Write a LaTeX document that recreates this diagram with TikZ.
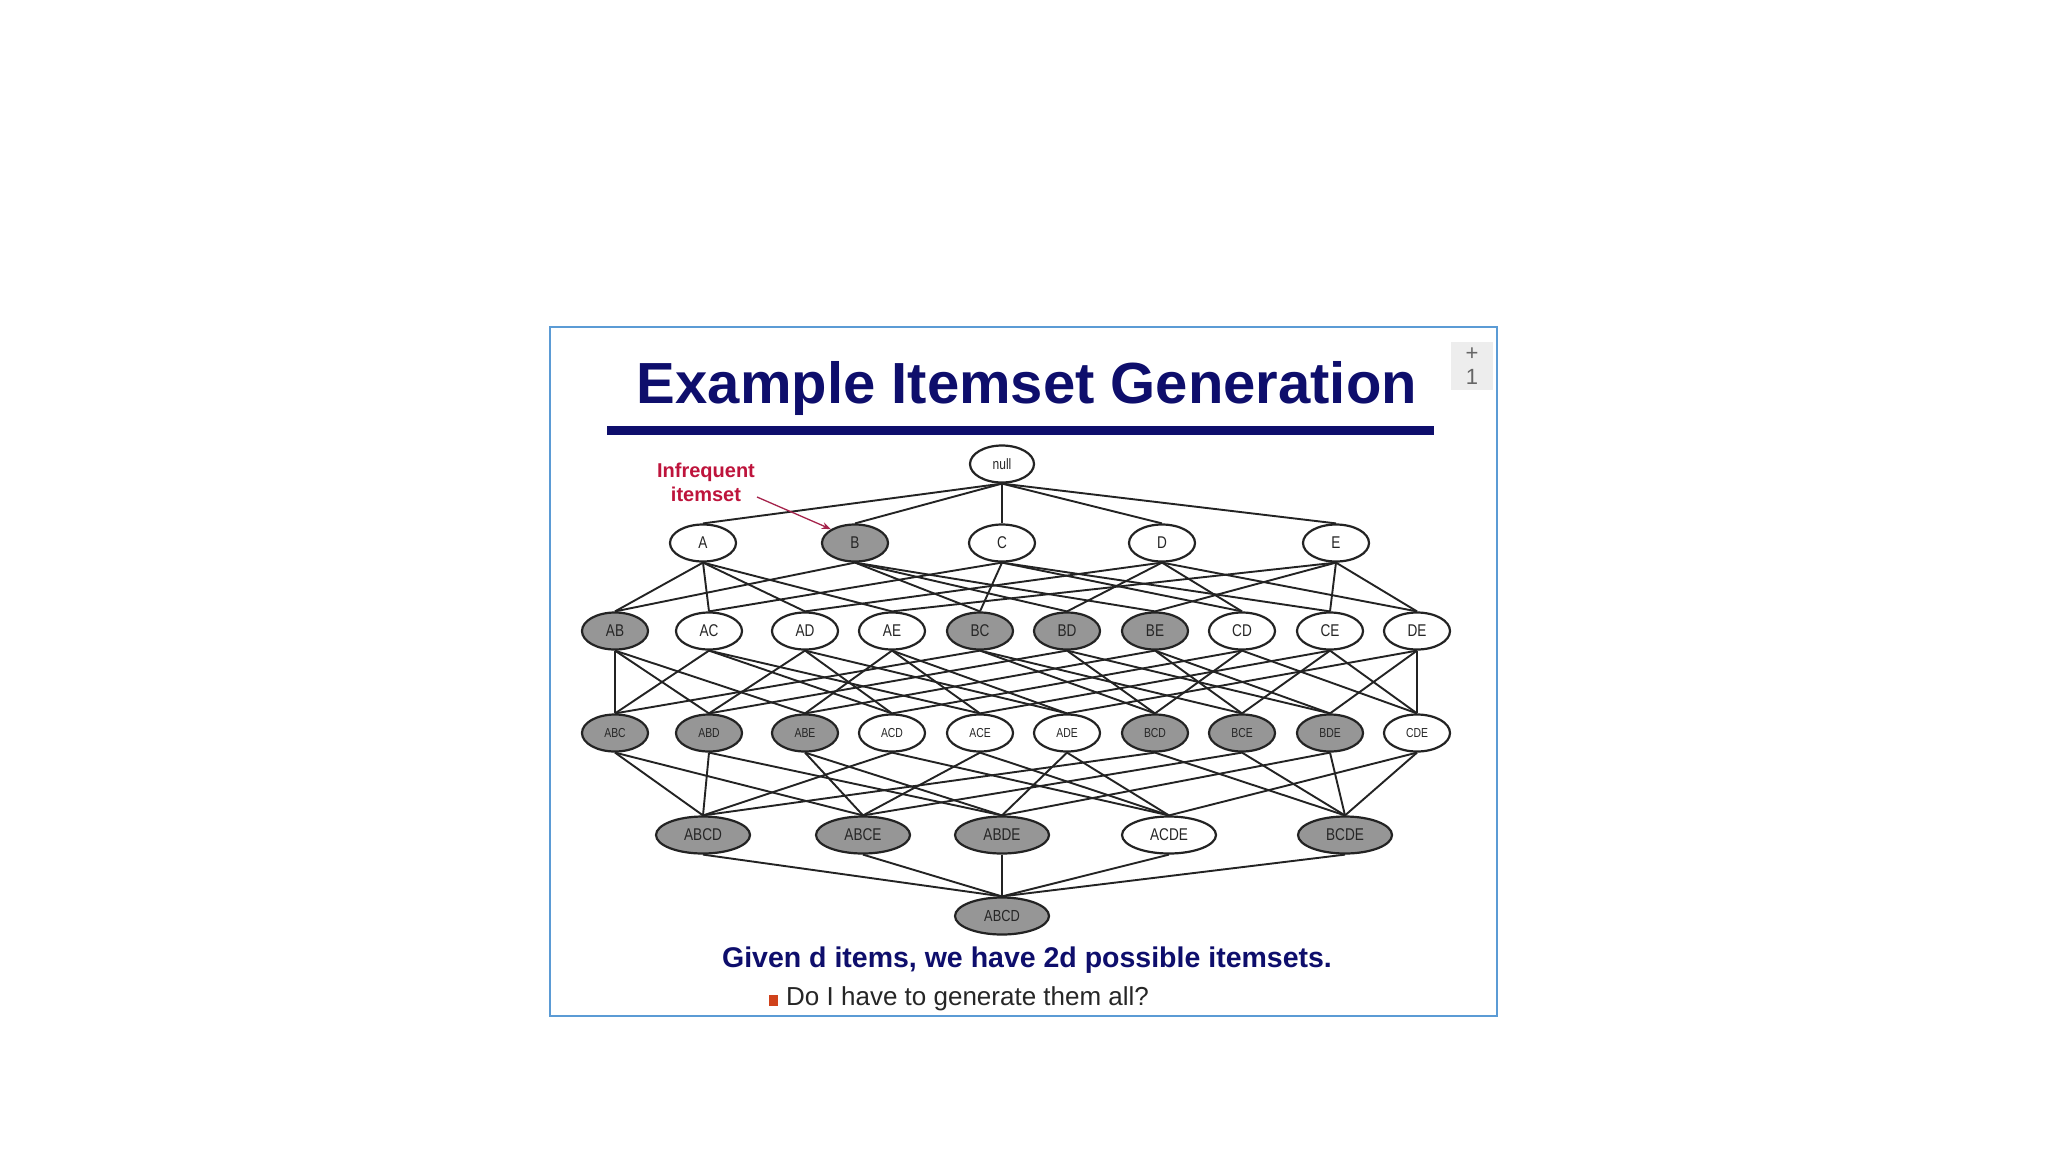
\documentclass[tikz,border=0pt]{standalone}
\usepackage{fontspec}
\setmainfont{Liberation Sans}
\newfontfamily\narrowfont[FakeStretch=0.8]{Liberation Sans}
\usetikzlibrary{shapes.geometric,arrows.meta}
\definecolor{navy}{RGB}{14,14,108}
\definecolor{nodegray}{RGB}{150,150,150}
\definecolor{edgecol}{RGB}{35,35,35}
\definecolor{framecol}{RGB}{91,155,213}
\definecolor{crimson}{RGB}{190,20,60}
\definecolor{arrowred}{RGB}{165,35,75}
\definecolor{bulletcol}{RGB}{208,66,27}
\tikzset{
  x=1pt, y=-1pt,
  itm/.style={ellipse, draw=edgecol, line width=2.2pt, minimum width=66pt, minimum height=37pt, inner sep=0pt, text=black!85, font=\narrowfont\fontsize{17}{17}\selectfont},
  itmsmall/.style={itm, font=\narrowfont\fontsize{13}{13}\selectfont},
  itmwide/.style={itm, minimum width=94pt},
  inf/.style={fill=nodegray},
  frq/.style={fill=white},
  edge/.style={draw=edgecol, line width=1.9pt},
}
\begin{document}
\begin{tikzpicture}
\useasboundingbox (0,0) rectangle (2048,1152);
\fill[white] (0,0) rectangle (2048,1152);
% slide frame
\draw[framecol, line width=1.6pt] (550,327) rectangle (1497,1016);
% +1 box
\node[fill=black!7, minimum width=42pt, minimum height=48pt, inner sep=0pt] (plusbox) at (1472,366) {};
\node[text=black!60, font=\fontsize{22}{22}\selectfont] (plus) at (1472,354) {+};
\node[text=black!60, font=\fontsize{22}{22}\selectfont] (one) at (1472,377) {1};
% title
\node[text=navy, font=\bfseries\fontsize{58}{62}\selectfont] (title) at (1027,388) {Example Itemset Generation};
\fill[navy] (607,426) rectangle (1434,435);
% nodes
\node[itm, frq, font=\narrowfont\fontsize{15}{15}\selectfont, minimum width=64pt] (null) at (1002,464) {null};
\node[itm, frq] (A) at (703,543) {A};
\node[itm, inf] (B) at (855,543) {B};
\node[itm, frq] (C) at (1002,543) {C};
\node[itm, frq] (D) at (1162,543) {D};
\node[itm, frq] (E) at (1336,543) {E};
\node[itm, inf] (AB) at (615,631) {AB};
\node[itm, frq] (AC) at (709,631) {AC};
\node[itm, frq] (AD) at (805,631) {AD};
\node[itm, frq] (AE) at (892,631) {AE};
\node[itm, inf] (BC) at (980,631) {BC};
\node[itm, inf] (BD) at (1067,631) {BD};
\node[itm, inf] (BE) at (1155,631) {BE};
\node[itm, frq] (CD) at (1242,631) {CD};
\node[itm, frq] (CE) at (1330,631) {CE};
\node[itm, frq] (DE) at (1417,631) {DE};
\node[itmsmall, inf] (ABC) at (615,733) {ABC};
\node[itmsmall, inf] (ABD) at (709,733) {ABD};
\node[itmsmall, inf] (ABE) at (805,733) {ABE};
\node[itmsmall, frq] (ACD) at (892,733) {ACD};
\node[itmsmall, frq] (ACE) at (980,733) {ACE};
\node[itmsmall, frq] (ADE) at (1067,733) {ADE};
\node[itmsmall, inf] (BCD) at (1155,733) {BCD};
\node[itmsmall, inf] (BCE) at (1242,733) {BCE};
\node[itmsmall, inf] (BDE) at (1330,733) {BDE};
\node[itmsmall, frq] (CDE) at (1417,733) {CDE};
\node[itmwide, inf] (ABCD) at (703,835) {ABCD};
\node[itmwide, inf] (ABCE) at (863,835) {ABCE};
\node[itmwide, inf] (ABDE) at (1002,835) {ABDE};
\node[itmwide, frq] (ACDE) at (1169,835) {ACDE};
\node[itmwide, inf] (BCDE) at (1345,835) {BCDE};
\node[itmwide, inf, font=\narrowfont\fontsize{16}{16}\selectfont] (ABCDE) at (1002,916) {ABCD};
% edges
\foreach \p/\c in {null/A, null/B, null/C, null/D, null/E,
  A/AB, A/AC, A/AD, A/AE, B/AB, B/BC, B/BD, B/BE, C/AC, C/BC, C/CD, C/CE,
  D/AD, D/BD, D/CD, D/DE, E/AE, E/BE, E/CE, E/DE,
  AB/ABC, AB/ABD, AB/ABE, AC/ABC, AC/ACD, AC/ACE, AD/ABD, AD/ACD, AD/ADE,
  AE/ABE, AE/ACE, AE/ADE, BC/ABC, BC/BCD, BC/BCE, BD/ABD, BD/BCD, BD/BDE,
  BE/ABE, BE/BCE, BE/BDE, CD/ACD, CD/BCD, CD/CDE, CE/ACE, CE/BCE, CE/CDE,
  DE/ADE, DE/BDE, DE/CDE,
  ABC/ABCD, ABC/ABCE, ABD/ABCD, ABD/ABDE, ABE/ABCE, ABE/ABDE, ACD/ABCD, ACD/ACDE,
  ACE/ABCE, ACE/ACDE, ADE/ABDE, ADE/ACDE, BCD/ABCD, BCD/BCDE, BCE/ABCE, BCE/BCDE,
  BDE/ABDE, BDE/BCDE, CDE/ACDE, CDE/BCDE,
  ABCD/ABCDE, ABCE/ABCDE, ABDE/ABCDE, ACDE/ABCDE, BCDE/ABCDE}
  \draw[edge] (\p.south) -- (\c.north);
% infrequent label
\node[text=crimson, font=\bfseries\fontsize{20}{24}\selectfont, align=center] (inflabel) at (706,482) {Infrequent\\itemset};
\coordinate (arrstart) at (757,497);
\draw[arrowred, line width=1.3pt, -{Stealth[length=9pt,width=7pt]}] (arrstart) -- (B.north west);
% bottom texts
\node[text=navy, font=\bfseries\fontsize{28.5}{30}\selectfont] (given) at (1027,960) {Given d items, we have 2d possible itemsets.};
\node[fill=bulletcol, minimum width=9pt, minimum height=11pt, inner sep=0pt] (bullet) at (773,1000) {};
\node[anchor=west, text=black!85, font=\fontsize{26}{28}\selectfont, inner sep=0pt] (bulltext) at (786,999) {Do I have to generate them all?};
\end{tikzpicture}
\end{document}
